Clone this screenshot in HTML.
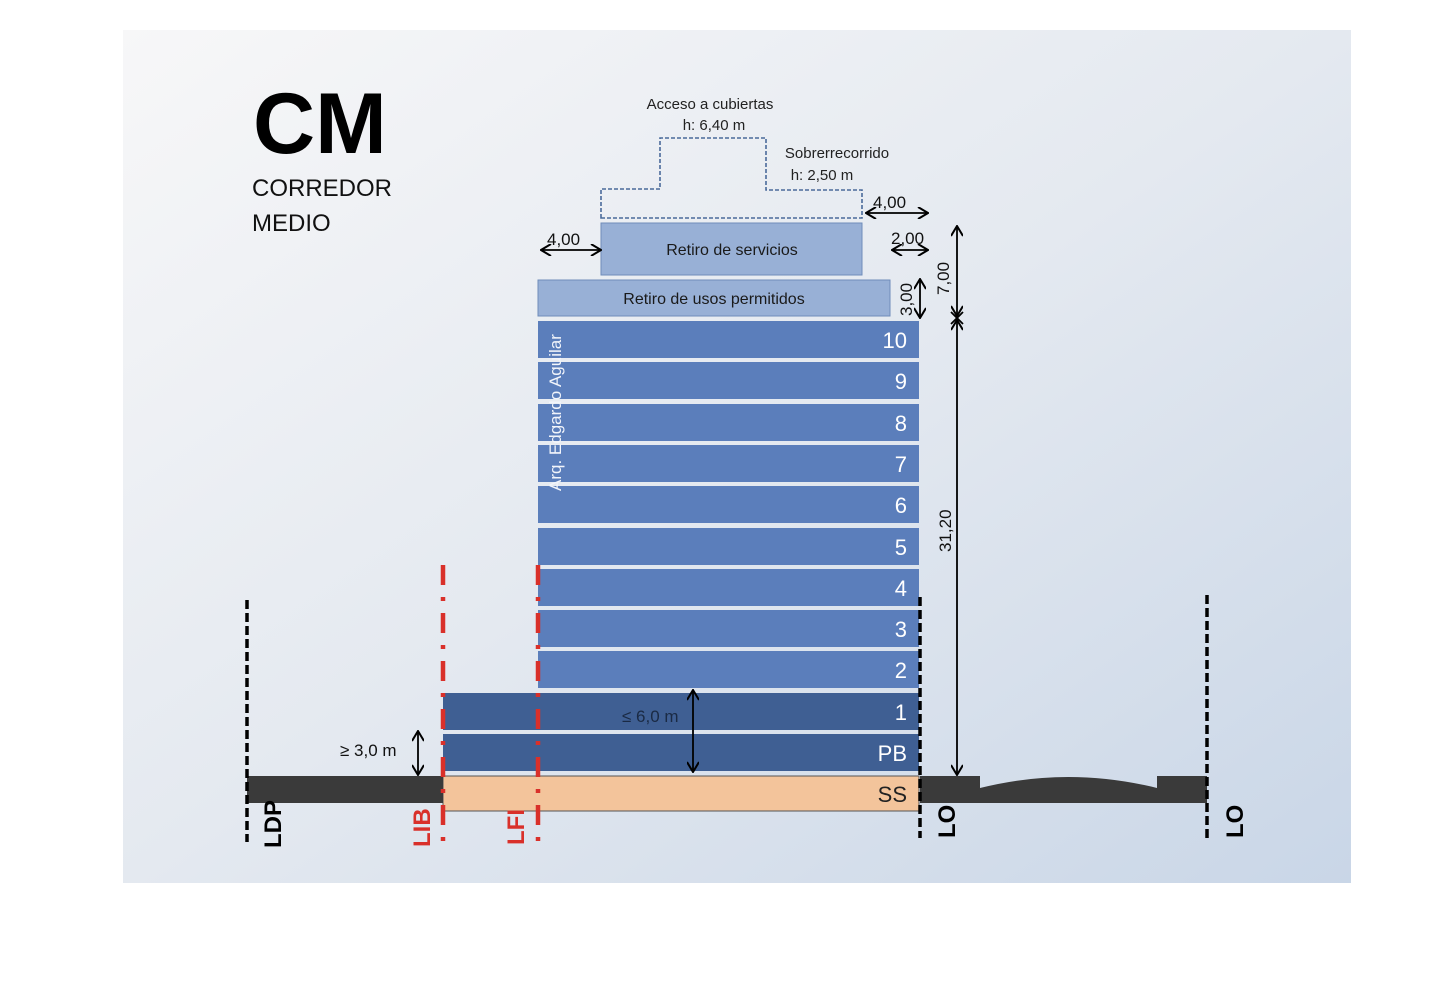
<!DOCTYPE html>
<html><head><meta charset="utf-8"><style>
html,body{margin:0;padding:0;background:#fff;}
svg{display:block;}
text{font-family:"Liberation Sans","DejaVu Sans",sans-serif;}
</style></head><body>
<svg width="1440" height="989" viewBox="0 0 1440 989" xmlns="http://www.w3.org/2000/svg">
<defs>
<linearGradient id="bg" x1="0" y1="0" x2="1" y2="1">
<stop offset="0" stop-color="#f7f7f8"/><stop offset="0.5" stop-color="#e4e9f0"/><stop offset="1" stop-color="#c9d6e7"/>
</linearGradient>
<marker id="ah" viewBox="0 0 12 12" refX="11" refY="6" markerWidth="12" markerHeight="12" markerUnits="userSpaceOnUse" orient="auto-start-reverse">
<path d="M1,0 L11,6 L1,12" fill="none" stroke="#000" stroke-width="2"/>
</marker>
</defs>
<rect x="0" y="0" width="1440" height="989" fill="#fff"/>
<rect x="123" y="30" width="1228" height="853" fill="url(#bg)"/>

<text x="253" y="153" font-size="86" font-weight="bold" fill="#000">CM</text>
<text x="252" y="196" font-size="24" fill="#111">CORREDOR</text>
<text x="252" y="231" font-size="24" fill="#111">MEDIO</text>

<path d="M601,218 L601,189 L660,189 L660,138 L766,138 L766,190 L862,190 L862,218 Z" fill="none" stroke="#4a6a9a" stroke-width="1.6" stroke-dasharray="4,2"/>
<text x="710" y="109" font-size="15" text-anchor="middle" fill="#222">Acceso a cubiertas</text>
<text x="714" y="130" font-size="15" text-anchor="middle" fill="#222">h: 6,40 m</text>
<text x="837" y="158" font-size="15" text-anchor="middle" fill="#222">Sobrerrecorrido</text>
<text x="822" y="180" font-size="15" text-anchor="middle" fill="#222">h: 2,50 m</text>

<rect x="601" y="223" width="261" height="52" fill="#98b0d6" stroke="#6f8cba" stroke-width="1"/>
<text x="732" y="255" font-size="16" text-anchor="middle" fill="#1a1a1a">Retiro de servicios</text>
<rect x="538" y="280" width="352" height="36" fill="#98b0d6" stroke="#6f8cba" stroke-width="1"/>
<text x="714" y="304" font-size="16" text-anchor="middle" fill="#1a1a1a">Retiro de usos permitidos</text>

<g fill="#5b7ebb">
<rect x="538" y="321" width="381" height="37"/>
<rect x="538" y="362" width="381" height="37"/>
<rect x="538" y="404" width="381" height="37"/>
<rect x="538" y="445" width="381" height="37"/>
<rect x="538" y="486" width="381" height="37"/>
<rect x="538" y="528" width="381" height="37"/>
<rect x="538" y="569" width="381" height="37"/>
<rect x="538" y="610" width="381" height="37"/>
<rect x="538" y="651" width="381" height="37"/>
</g>
<g fill="#3f5f93">
<rect x="443" y="693" width="476" height="37"/>
<rect x="443" y="734" width="476" height="37"/>
</g>
<rect x="443" y="776" width="476" height="35" fill="#f3c49b" stroke="#555" stroke-width="1"/>
<g font-size="22" fill="#fff" text-anchor="end">
<text x="907" y="348">10</text><text x="907" y="389">9</text><text x="907" y="431">8</text>
<text x="907" y="472">7</text><text x="907" y="513">6</text><text x="907" y="555">5</text>
<text x="907" y="596">4</text><text x="907" y="637">3</text><text x="907" y="678">2</text>
<text x="907" y="720">1</text><text x="907" y="761">PB</text>
</g>
<text x="907" y="802" font-size="22" fill="#222" text-anchor="end">SS</text>
<text transform="translate(561,491) rotate(-90)" font-size="17" fill="#f2f5fb">Arq. Edgardo Aguilar</text>

<rect x="247" y="776" width="196" height="27" fill="#3a3a3a"/>
<path d="M920,776 L980,776 L980,788 Q1068,766 1157,788 L1157,776 L1207,776 L1207,803 L920,803 Z" fill="#3a3a3a"/>

<g stroke="#000" stroke-width="3.5" stroke-dasharray="9,4" fill="none">
<line x1="247" y1="600" x2="247" y2="842"/>
<line x1="920" y1="597" x2="920" y2="838"/>
<line x1="1207" y1="595" x2="1207" y2="838"/>
</g>
<g stroke="#d9302a" stroke-width="4.5" stroke-dasharray="20,12,4,12" fill="none">
<line x1="443" y1="565" x2="443" y2="845"/>
<line x1="538" y1="565" x2="538" y2="845"/>
</g>
<g font-size="24" font-weight="bold">
<text transform="translate(281,848) rotate(-90)" fill="#000">LDP</text>
<text transform="translate(430,847) rotate(-90)" fill="#d9302a">LIB</text>
<text transform="translate(524,845) rotate(-90)" fill="#d9302a">LFI</text>
<text transform="translate(955,838) rotate(-90)" fill="#000">LO</text>
<text transform="translate(1243,838) rotate(-90)" fill="#000">LO</text>
</g>

<g stroke="#000" stroke-width="1.8" fill="none">
<line x1="957" y1="320" x2="957" y2="775" marker-start="url(#ah)" marker-end="url(#ah)"/>
<line x1="957" y1="226" x2="957" y2="316" marker-start="url(#ah)" marker-end="url(#ah)"/>
<line x1="951" y1="312" x2="963" y2="324"/><line x1="963" y1="312" x2="951" y2="324"/>
<line x1="920" y1="279" x2="920" y2="318" marker-start="url(#ah)" marker-end="url(#ah)"/>
<line x1="541" y1="250" x2="601" y2="250" marker-start="url(#ah)" marker-end="url(#ah)"/>
<line x1="892" y1="250" x2="928" y2="250" marker-start="url(#ah)" marker-end="url(#ah)"/>
<line x1="866" y1="213" x2="928" y2="213" marker-start="url(#ah)" marker-end="url(#ah)"/>
<line x1="418" y1="731" x2="418" y2="775" marker-start="url(#ah)" marker-end="url(#ah)"/>
<line x1="693" y1="690" x2="693" y2="772" marker-start="url(#ah)" marker-end="url(#ah)"/>
</g>
<g font-size="17" fill="#111">
<text x="547" y="245">4,00</text>
<text x="891" y="244">2,00</text>
<text x="873" y="208">4,00</text>
<text transform="translate(951,552) rotate(-90)">31,20</text>
<text transform="translate(949,295) rotate(-90)">7,00</text>
<text transform="translate(912,316) rotate(-90)">3,00</text>
<text x="340" y="756">≥ 3,0 m</text>
<text x="622" y="722" fill="#1a2a44">≤ 6,0 m</text>
</g>
</svg>
</body></html>
